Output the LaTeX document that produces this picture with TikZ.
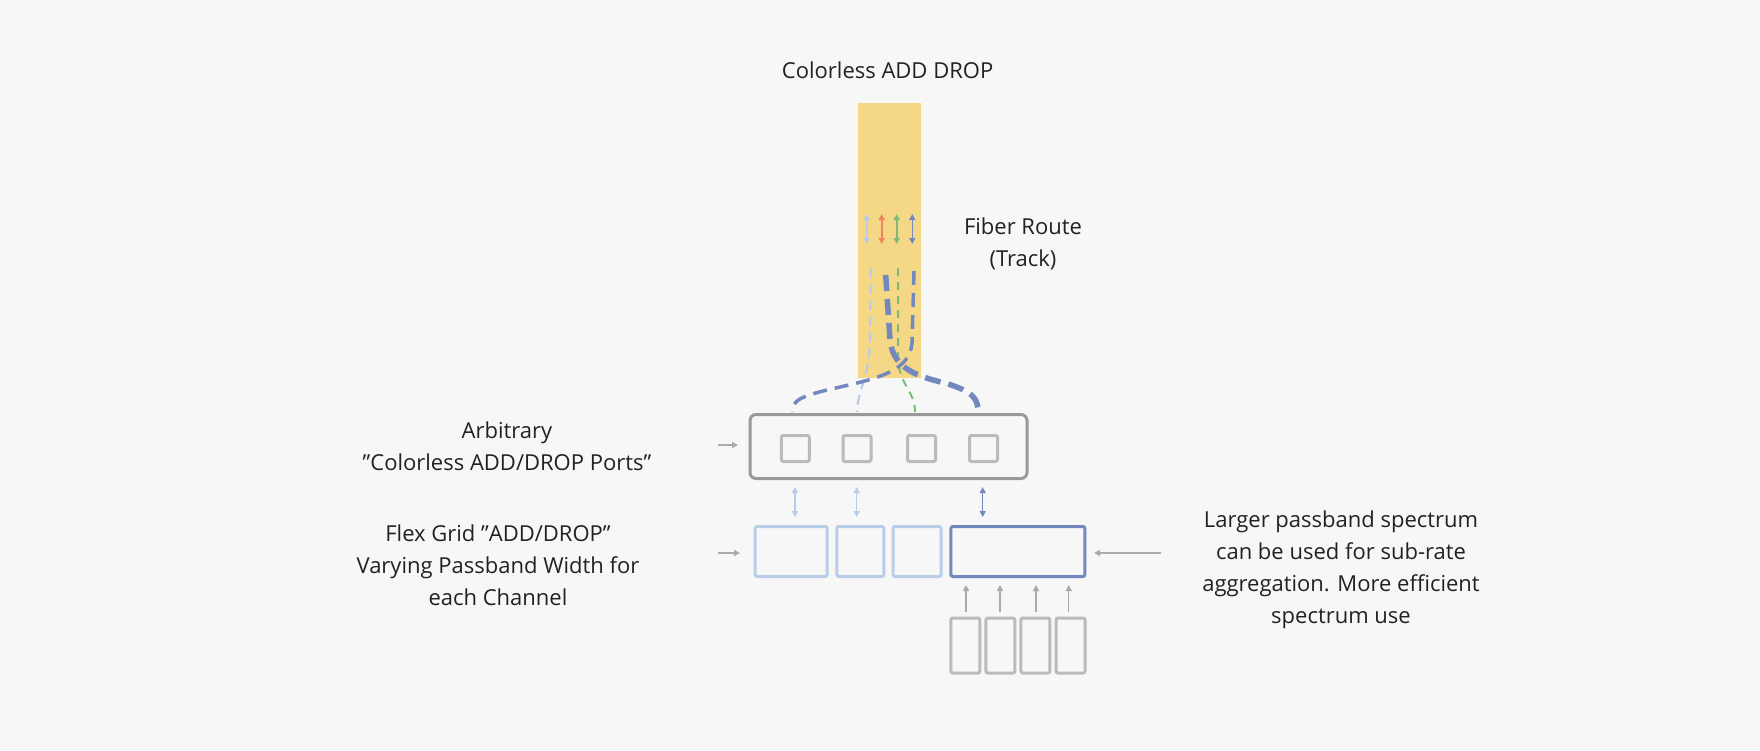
\documentclass[tikz,border=0pt]{standalone}
\usepackage{fontspec}
\setmainfont{Open Sans}
\usetikzlibrary{arrows.meta}
\definecolor{bg}{HTML}{F7F7F7}
\definecolor{yel}{HTML}{F5D886}
\definecolor{lb}{HTML}{B9CCE8}
\definecolor{db}{HTML}{7388BE}
\definecolor{org}{HTML}{F0845F}
\definecolor{grn}{HTML}{7DBB7A}
\definecolor{gbox}{HTML}{999999}
\definecolor{gsq}{HTML}{BBBBBB}
\definecolor{garr}{HTML}{AAAAAA}
\definecolor{txt}{HTML}{222222}
\begin{document}
\begin{tikzpicture}[x=1pt,y=-1pt,
  lbl/.style={text=txt,font=\fontsize{22}{32}\selectfont,align=center,inner sep=0},
  dbl/.style={line width=1.6pt,{Triangle[length=6pt,width=6pt]}-{Triangle[length=6pt,width=6pt]}},
  garrow/.style={garr,line width=1.4pt,-{Triangle[length=6pt,width=6pt]}},
  sq/.style={draw=gsq,line width=3pt,rounded corners=2pt,inner sep=0,minimum width=28pt,minimum height=26pt},
  bar/.style={line width=3pt,rounded corners=2pt,inner sep=0,minimum height=50pt},
  tall/.style={draw=gsq,line width=3pt,rounded corners=2pt,inner sep=0,minimum width=29pt,minimum height=55pt}]
\fill[bg] (0,0) rectangle (1760,750);
\useasboundingbox (0,0) rectangle (1760,750);
\fill[yel] (858,103) rectangle (921,378);
% dashed routes
\draw[lb,line width=2.2pt,dash pattern=on 10pt off 6pt] (870.7,268) -- (870,340) .. controls (869,380) and (857,390) .. (857.3,412);
\draw[grn,line width=2pt,dash pattern=on 8pt off 6pt] (898,268) -- (898,355) .. controls (898,385) and (915,390) .. (915,412);
\draw[db,line width=3.5pt,dash pattern=on 14pt off 8pt] (914,271) -- (912,343) .. controls (910,370) and (880,378) .. (840,387) .. controls (800,396) and (792,400) .. (792.7,412);
\draw[db,line width=5.5pt,dash pattern=on 16pt off 8pt] (885.7,275) -- (890,340) .. controls (893,365) and (910,375) .. (945,383) .. controls (975,392) and (978,400) .. (978,412);
% arrows in fiber
\draw[dbl,lb] (866.7,214) -- (866.7,244);
\draw[dbl,org] (881.7,214) -- (881.7,244);
\draw[dbl,grn] (896.7,214) -- (896.7,244);
\draw[dbl,db] (912.3,214) -- (912.3,244);
% port box
\node[draw=gbox,line width=3pt,rounded corners=6pt,minimum width=277pt,minimum height=64pt,inner sep=0] (box) at (888.5,446.5) {};
\node[sq] (s1) at (795.3,448.5) {};
\node[sq] (s2) at (857,448.5) {};
\node[sq] (s3) at (921.5,448.5) {};
\node[sq] (s4) at (983.5,448.5) {};
% bars
\node[bar,draw=lb,minimum width=72pt] (b1) at (791.2,551.5) {};
\node[bar,draw=lb,minimum width=47pt] (b2) at (860.4,551.5) {};
\node[bar,draw=lb,minimum width=48pt] (b3) at (917,551.5) {};
\node[bar,draw=db,minimum width=134pt] (b4) at (1017.9,551.5) {};
\draw[dbl,lb,line width=1.4pt] (795,487) -- (795,517);
\draw[dbl,lb,line width=1.4pt] (856.7,487) -- (856.7,517);
\draw[dbl,db,line width=1.4pt] (982.7,487) -- (982.7,517);
% tall boxes
\node[tall] (t1) at (965.4,645.5) {};
\node[tall] (t2) at (1000.4,645.5) {};
\node[tall] (t3) at (1035.4,645.5) {};
\node[tall] (t4) at (1070.5,645.5) {};
\foreach \i/\x in {1/966,2/1000,3/1036,4/1068.7}{
  \draw[garrow] (\x,611.7) -- (\x,585);
}
% labels
\node[lbl] (title) at (887.6,70.7) {Colorless ADD DROP};
\node[lbl] (fiber) at (1023,244) {Fiber Route\\(Track)};
\node[lbl] (arb) at (507,446) {Arbitrary\\"Colorless ADD/DROP Ports"};
\node[lbl] (flex) at (498,565) {Flex Grid "ADD/DROP"\\Varying Passband Width for\\each Channel};
\node[lbl] (larger) at (1341,570) {Larger passband spectrum\\can be used for sub-rate\\aggregation. More efficient\\spectrum use};
\coordinate (a1) at (718,445);
\coordinate (a2) at (718,553);
\coordinate (a3) at (1161,553);
\draw[garrow] (a1) -- (738,445);
\draw[garrow] (a2) -- (740,553);
\draw[garrow] (a3) -- (1094,553);
\end{tikzpicture}
\end{document}
